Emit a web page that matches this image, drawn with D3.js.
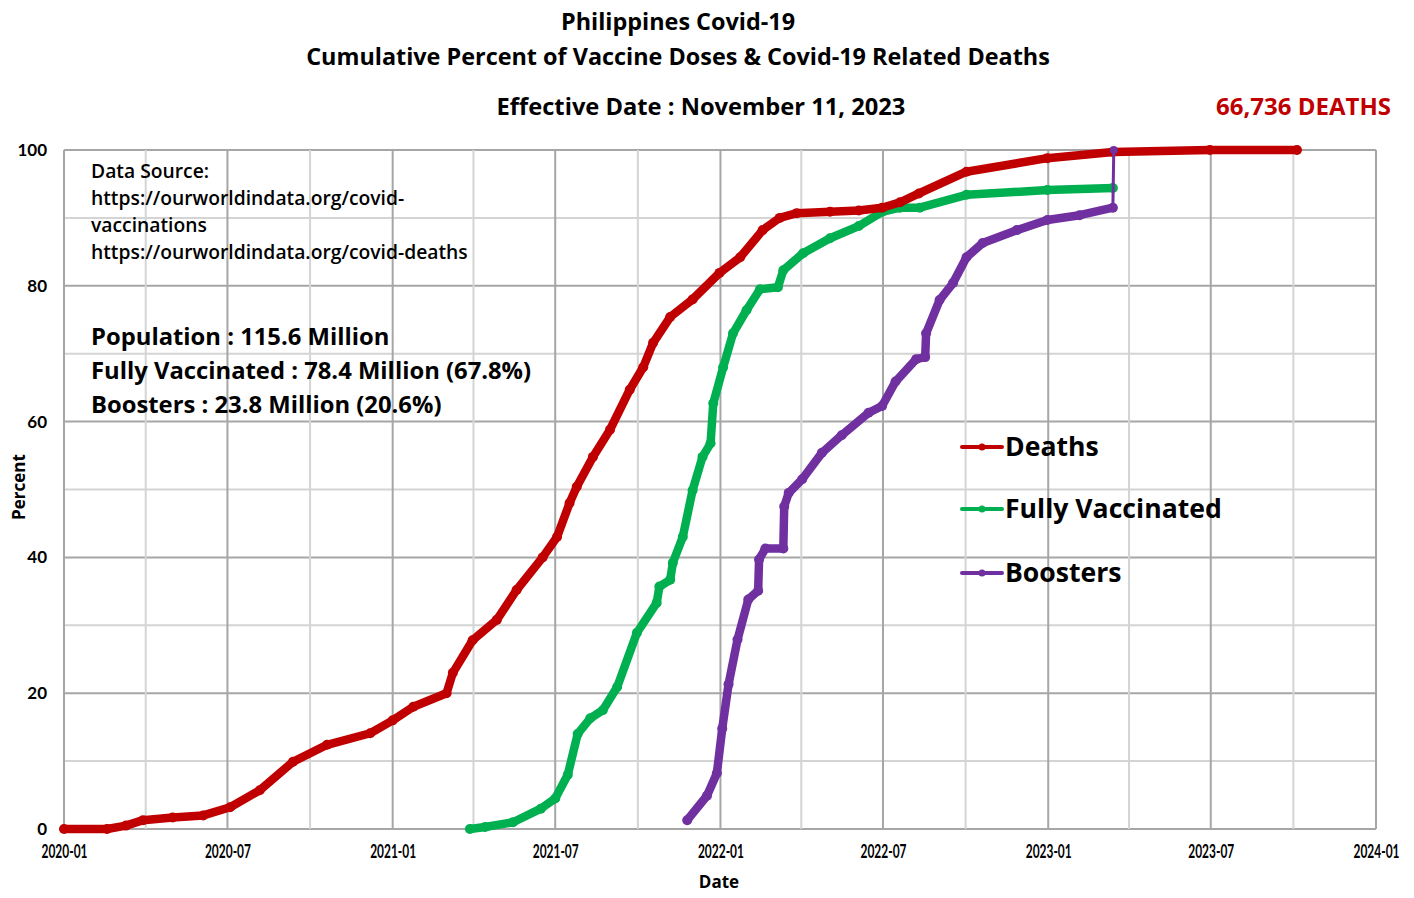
<!DOCTYPE html>
<html>
<head>
<meta charset="utf-8">
<script src="https://cdn.jsdelivr.net/npm/d3@7"></script>
<style>
  body { margin: 0; background: #fff; }
  text { font-family: "Open Sans", Lato, sans-serif; }
</style>
</head>
<body>
<div id="chart"></div>
<script>
// cumulative percent of final total
var deathDates = ["2020-01-01","2020-02-18","2020-03-10","2020-03-29","2020-05-01","2020-06-04","2020-07-04","2020-08-06","2020-09-12","2020-10-20","2020-12-07","2021-01-01","2021-01-24","2021-03-02","2021-03-09","2021-03-31","2021-04-27","2021-05-19","2021-06-17","2021-07-03","2021-07-17","2021-07-25","2021-08-12","2021-08-31","2021-09-22","2021-10-07","2021-10-18","2021-11-06","2021-12-01","2021-12-31","2022-01-23","2022-02-17","2022-03-08","2022-03-27","2022-05-03","2022-06-04","2022-06-30","2022-07-20","2022-08-10","2022-10-02","2022-12-31","2023-03-14","2023-06-30","2023-10-05"];
var deathVals  = [0,0,0.5,1.3,1.7,2,3.2,5.7,9.9,12.4,14.1,16,18,20,23,27.8,30.8,35.2,40,43,48,50.4,54.8,58.8,64.7,68,71.6,75.4,78,81.9,84.2,88.2,90,90.7,90.9,91.1,91.5,92.3,93.6,96.8,98.8,99.7,100,100];

var vaxDates = ["2021-03-28","2021-04-14","2021-05-15","2021-06-15","2021-07-01","2021-07-15","2021-07-26","2021-08-09","2021-08-23","2021-09-08","2021-09-30","2021-10-22","2021-10-25","2021-11-06","2021-11-09","2021-11-20","2021-12-01","2021-12-12","2021-12-21","2021-12-24","2022-01-04","2022-01-15","2022-01-30","2022-02-14","2022-03-06","2022-03-12","2022-04-03","2022-05-03","2022-06-04","2022-06-30","2022-07-20","2022-08-11","2022-10-02","2022-12-31","2023-03-14"];
var vaxVals  = [0,0.3,1,3,4.5,8,14,16.3,17.5,20.9,28.9,33.3,35.7,36.7,39.2,43,49.9,54.8,56.8,62.7,68,73,76.4,79.5,79.8,82.3,84.8,87,88.8,90.9,91.5,91.5,93.4,94.1,94.4];

var boostDates = ["2021-11-25","2021-12-17","2021-12-28","2022-01-03","2022-01-10","2022-01-20","2022-02-01","2022-02-12","2022-02-13","2022-02-20","2022-03-12","2022-03-13","2022-03-18","2022-04-02","2022-04-24","2022-05-16","2022-06-15","2022-06-30","2022-07-15","2022-08-07","2022-08-17","2022-08-18","2022-09-02","2022-09-17","2022-10-02","2022-10-20","2022-11-27","2022-12-31","2023-02-05","2023-03-14","2023-03-15"];
var boostVals  = [1.3,4.9,8.2,14.8,21.3,27.9,33.8,35.1,39.7,41.3,41.3,47.5,49.5,51.5,55.4,58,61.3,62.3,65.9,69.2,69.5,73,77.9,80.4,84.2,86.3,88.2,89.7,90.4,91.5,100];

var seriesNames  = ["Deaths","Fully Vaccinated","Boosters"];
var seriesColors = ["#c00000","#00b050","#7030a0"];
var xTickLabels  = ["2020-01","2020-07","2021-01","2021-07","2022-01","2022-07","2023-01","2023-07","2024-01"];
var yTicks       = [0,20,40,60,80,100];

var width = 1414, height = 898;
var plotLeft = 64, plotRight = 1376, plotTop = 150, plotBottom = 829;
var parse = d3.timeParse("%Y-%m-%d");

var x = d3.scaleTime()
    .domain([parse("2020-01-01"), parse("2024-01-01")])
    .range([plotLeft, plotRight]);
var y = d3.scaleLinear().domain([0, 100]).range([plotBottom, plotTop]);

var svg = d3.select("#chart").append("svg")
    .attr("width", width).attr("height", height);

// grid, light every 10 / quarter, darker every 20 / half-year
var yGrid = d3.range(0, 101, 10);
svg.append("g").selectAll("line").data(yGrid).enter().append("line")
    .attr("x1", plotLeft).attr("x2", plotRight)
    .attr("y1", d => y(d)).attr("y2", d => y(d))
    .style("stroke", d => d % 20 == 0 ? "#a6a6a6" : "#d4d4d4")
    .style("stroke-width", "2px");

var xGrid = d3.timeMonth.every(3).range(parse("2020-01-01"), parse("2024-01-02"));
svg.append("g").selectAll("line").data(xGrid).enter().append("line")
    .attr("x1", d => x(d)).attr("x2", d => x(d))
    .attr("y1", plotTop).attr("y2", plotBottom)
    .style("stroke", d => d.getMonth() % 6 == 0 ? "#a6a6a6" : "#d4d4d4")
    .style("stroke-width", "2px");

// axes
var xAxis = d3.axisBottom(x)
    .tickValues(xTickLabels.map(s => parse(s + "-01")))
    .tickFormat(d3.timeFormat("%Y-%m"))
    .tickSize(0).tickPadding(16);
var gx = svg.append("g").attr("transform", "translate(0," + plotBottom + ")").call(xAxis);
gx.select(".domain").remove();
gx.selectAll("text").style("font-size", "19px").style("font-weight", "bold")
    .style("font-family", "Lato, sans-serif").attr("fill", "#000")
    .attr("textLength", 46).attr("lengthAdjust", "spacingAndGlyphs");

var yAxis = d3.axisLeft(y).tickValues(yTicks).tickSize(0).tickPadding(17);
var gy = svg.append("g").attr("transform", "translate(" + plotLeft + ",0)").call(yAxis);
gy.select(".domain").remove();
gy.selectAll("text").style("font-size", "17px").style("font-weight", "bold")
    .style("font-family", "Lato, sans-serif").attr("fill", "#000");

svg.append("text").attr("x", 719).attr("y", 888).attr("text-anchor", "middle")
    .style("font-size", "17px").style("font-weight", "bold").text("Date");
svg.append("text").attr("transform", "translate(25,487) rotate(-90)")
    .attr("text-anchor", "middle")
    .style("font-size", "17px").style("font-weight", "bold").text("Percent");

// series
var series = [
    deathDates.map((d, i) => [parse(d), deathVals[i]]),
    vaxDates.map((d, i) => [parse(d), vaxVals[i]]),
    boostDates.map((d, i) => [parse(d), boostVals[i]])
];
var line = d3.line().x(d => x(d[0])).y(d => y(d[1]));

var drawOrder = [2, 1, 0];
drawOrder.forEach(function(k) {
    var s = series[k];
    var g = svg.append("g");
    var pts = k == 2 ? s.slice(0, -1) : s;
    g.append("path").attr("d", line(pts))
        .style("fill", "none")
        .style("stroke", seriesColors[k])
        .style("stroke-width", "8.5px")
        .style("stroke-linejoin", "round")
        .style("stroke-linecap", "round");
    g.selectAll("circle").data(pts).enter().append("circle")
        .attr("cx", d => x(d[0])).attr("cy", d => y(d[1]))
        .attr("r", 5)
        .style("fill", seriesColors[k]);
});
// thin purple riser at the end of boosters
var lastB = series[2].slice(-2);
svg.append("path").attr("d", line(lastB))
    .style("stroke", seriesColors[2]).style("stroke-width", "3px");
svg.append("circle").attr("cx", x(lastB[1][0])).attr("cy", y(lastB[1][1])).attr("r", 4)
    .style("fill", seriesColors[2]);

// legend
var legendY = [447, 509, 573];
seriesNames.forEach(function(n, k) {
    svg.append("line").attr("x1", 962).attr("x2", 1002)
        .attr("y1", legendY[k]).attr("y2", legendY[k])
        .style("stroke", seriesColors[k]).style("stroke-width", "4px")
        .style("stroke-linecap", "round");
    svg.append("circle").attr("cx", 982).attr("cy", legendY[k]).attr("r", 3.5)
        .style("fill", seriesColors[k]);
    svg.append("text").attr("x", 1005).attr("y", legendY[k]).attr("dy", "0.35em")
        .style("font-size", "26.6px").style("font-weight", "bold").text(n);
});

// titles
svg.append("text").attr("x", 678).attr("y", 22).attr("dy", "0.35em").attr("text-anchor", "middle")
    .style("font-size", "23.4px").style("font-weight", "bold").text("Philippines Covid-19");
svg.append("text").attr("x", 678).attr("y", 57).attr("dy", "0.35em").attr("text-anchor", "middle")
    .style("font-size", "23.4px").style("font-weight", "bold")
    .text("Cumulative Percent of Vaccine Doses & Covid-19 Related Deaths");
svg.append("text").attr("x", 701).attr("y", 107).attr("dy", "0.35em").attr("text-anchor", "middle")
    .style("font-size", "23.7px").style("font-weight", "bold")
    .text("Effective Date : November 11, 2023");
svg.append("text").attr("x", 1391).attr("y", 107).attr("dy", "0.35em").attr("text-anchor", "end")
    .style("font-size", "24px").style("font-weight", "bold").style("fill", "#c00000")
    .text("66,736 DEATHS");

// annotations
var sourceLines = ["Data Source:", "https://ourworldindata.org/covid-", "vaccinations", "https://ourworldindata.org/covid-deaths"];
sourceLines.forEach(function(t, i) {
    svg.append("text").attr("x", 91).attr("y", 171 + i * 27).attr("dy", "0.35em")
        .style("font-size", "19.3px").style("font-weight", "600").text(t);
});
var statLines = ["Population : 115.6 Million", "Fully Vaccinated : 78.4 Million (67.8%)", "Boosters : 23.8 Million (20.6%)"];
statLines.forEach(function(t, i) {
    svg.append("text").attr("x", 91).attr("y", 337 + i * 34).attr("dy", "0.35em")
        .style("font-size", "23.8px").style("font-weight", "bold").text(t);
});
</script>
</body>
</html>
